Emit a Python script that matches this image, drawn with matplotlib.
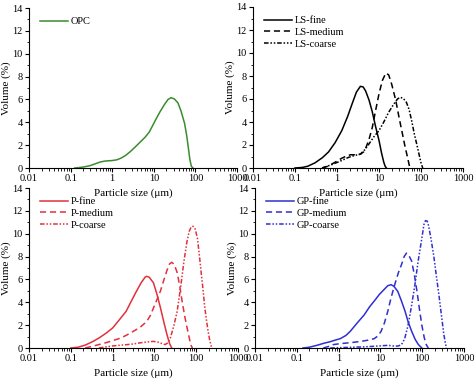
import matplotlib
matplotlib.use("Agg")
import matplotlib.pyplot as plt
from matplotlib.ticker import LogLocator, NullFormatter, MultipleLocator, FixedLocator, FixedFormatter

plt.rcParams['font.family'] = ['Liberation Serif', 'DejaVu Serif']
plt.rcParams['font.size'] = 7.5

# ---- data (particle size in um, volume in %) ----
opc_x = [0.126, 0.2, 0.29, 0.4, 0.51, 0.65, 0.8, 1.0, 1.3, 1.6, 2.1, 2.75, 3.6, 4.8, 6.2, 7.8,
         9.5, 11, 14, 18, 22, 26, 31, 38, 45, 55, 62, 68, 74, 80, 87]
opc_y = [0.0, 0.08, 0.2, 0.38, 0.52, 0.6, 0.63, 0.65, 0.72, 0.85, 1.1, 1.45, 1.85, 2.3, 2.7, 3.15,
         3.75, 4.2, 4.9, 5.55, 6.0, 6.15, 6.05, 5.7, 5.0, 3.9, 2.8, 1.7, 0.7, 0.15, 0.0]

ls_fine_x = [0.1, 0.15, 0.2, 0.3, 0.45, 0.63, 0.9, 1.3, 1.8, 2.3, 2.9, 3.6, 4.2, 4.8, 5.8, 6.9,
             8.3, 10, 11.5, 13, 14, 15]
ls_fine_y = [0.0, 0.05, 0.15, 0.45, 0.9, 1.4, 2.2, 3.25, 4.5, 5.6, 6.6, 7.1, 7.05, 6.7, 5.9, 4.9,
             3.6, 2.4, 1.3, 0.5, 0.15, 0.0]
ls_med_x = [0.44, 0.6, 0.76, 1.0, 1.3, 1.7, 2.1, 2.8, 3.6, 4.3, 4.8, 5.8, 6.9, 8.3, 10, 12, 14.5,
            17, 20, 25, 30, 36, 42, 48, 52, 55]
ls_med_y = [0.0, 0.15, 0.35, 0.6, 0.85, 1.05, 1.15, 1.15, 1.2, 1.4, 1.7, 2.5, 3.5, 5.0, 6.45, 7.6, 8.25,
            8.1, 7.3, 5.9, 4.4, 3.0, 1.8, 0.9, 0.3, 0.0]
ls_coa_x = [0.44, 0.76, 1.2, 1.9, 2.7, 3.6, 4.6, 5.8, 7.5, 10, 13, 17, 22, 27.5, 32, 38, 45, 52,
            60, 69, 80, 91, 100, 110]
ls_coa_y = [0.0, 0.3, 0.6, 0.93, 1.1, 1.2, 1.6, 2.1, 2.7, 3.25, 4.0, 4.85, 5.5, 6.0, 6.15, 6.05, 5.7, 5.1,
            4.1, 3.0, 2.0, 1.1, 0.45, 0.0]

p_fine_x = [0.1, 0.15, 0.22, 0.33, 0.47, 0.7, 1.0, 1.4, 2.1, 2.8, 3.7, 4.8, 6.0, 6.5, 7.5, 9.5,
            11.5, 14, 17, 20, 23, 26]
p_fine_y = [0.0, 0.07, 0.25, 0.55, 0.87, 1.3, 1.75, 2.4, 3.2, 4.1, 4.95, 5.7, 6.2, 6.27, 6.2, 5.7,
            4.7, 3.5, 2.2, 1.17, 0.4, 0.0]
p_med_x = [0.22, 0.33, 0.47, 0.7, 1.0, 1.5, 2.1, 3.1, 4.5, 6.5, 8, 9.5, 12, 14, 17, 20, 23, 26,
           30, 35, 40, 46, 53, 61, 70, 76, 81]
p_med_y = [0.0, 0.15, 0.3, 0.47, 0.64, 0.85, 1.1, 1.45, 1.8, 2.3, 2.85, 3.5, 4.4, 5.0, 6.0, 6.8, 7.35, 7.5,
           7.3, 6.6, 5.5, 4.1, 2.8, 1.7, 0.7, 0.2, 0.0]
p_coa_x = [0.47, 0.7, 1.0, 2, 3.1, 4.5, 6.5, 9.5, 12, 14, 16, 18, 21, 24, 29, 35, 42, 51, 60, 68,
           76, 84, 95, 107, 120, 135, 142, 160, 175, 190, 210, 235]
p_coa_y = [0.0, 0.1, 0.18, 0.28, 0.35, 0.45, 0.52, 0.58, 0.52, 0.44, 0.35, 0.3, 0.45, 0.87, 1.9, 3.2, 5.2, 7.6, 9.3, 10.2,
           10.6, 10.65, 10.4, 9.6, 8.0, 6.2, 5.5, 3.6, 2.5, 1.6, 0.7, 0.0]

gp_fine_x = [0.14, 0.2, 0.3, 0.45, 0.63, 0.85, 1.1, 1.5, 1.9, 2.8, 4.1, 5.5, 7.1, 9.5, 12.5, 15,
             18, 21, 26, 32, 39, 46, 56, 68, 81, 98]
gp_fine_y = [0.0, 0.07, 0.23, 0.42, 0.55, 0.7, 0.82, 1.1, 1.46, 2.2, 2.9, 3.6, 4.1, 4.7, 5.15, 5.45,
             5.54, 5.4, 4.96, 4.1, 3.2, 2.3, 1.46, 0.75, 0.3, 0.0]
gp_med_x = [0.43, 0.6, 0.75, 1.1, 1.6, 2.3, 3.4, 5, 7.1, 8.7, 10.4, 12.5, 15, 18, 22, 27, 32, 37,
            42, 48, 56, 65, 75, 86, 98, 112, 125, 140]
gp_med_y = [0.0, 0.15, 0.3, 0.38, 0.44, 0.5, 0.58, 0.68, 0.82, 1.05, 1.46, 2.2, 3.2, 4.4, 5.54, 6.6, 7.3, 8.0,
            8.3, 8.1, 7.6, 6.4, 4.96, 3.4, 2.0, 0.9, 0.3, 0.0]
gp_coa_x = [0.63, 1.0, 1.9, 4, 7.1, 11, 15, 19, 22, 27, 32, 38, 46, 55, 67, 80, 98, 110, 120, 132,
            142, 160, 190, 220, 250, 290, 330, 360, 380]
gp_coa_y = [0.0, 0.03, 0.06, 0.1, 0.15, 0.2, 0.23, 0.2, 0.15, 0.18, 0.3, 0.8, 2.0, 3.6, 5.54, 7.6, 9.6, 10.8, 11.15, 11.1,
            10.7, 9.7, 8.0, 6.2, 4.7, 2.8, 1.17, 0.4, 0.0]

x_ticks = [0.01, 0.1, 1, 10, 100, 1000]
x_tick_labels = ['0.01', '0.1', '1', '10', '100', '1000']

green = '#3a8c2e'
red = '#e2303c'
blue = '#2f2fd2'
black = '#000000'

dashdotdot = (0, (3, 1.2, 1, 1.2, 1, 1.2))
styles = ['-', (0, (4, 2.5)), dashdotdot]

fig = plt.figure(figsize=(4.74, 3.79), dpi=100)
W, H = 474, 379
def ax_at(l, r, t, b):
    return fig.add_axes([l / W, 1 - b / H, (r - l) / W, (b - t) / H])

axes = [ax_at(29, 237, 8, 168), ax_at(253, 463, 7, 168),
        ax_at(29, 238, 188, 348), ax_at(255, 464, 188, 348)]

panels = [
    [(opc_x, opc_y, 'OPC', green, '-')],
    [(ls_fine_x, ls_fine_y, 'LS-fine', black, styles[0]),
     (ls_med_x, ls_med_y, 'LS-medium', black, styles[1]),
     (ls_coa_x, ls_coa_y, 'LS-coarse', black, styles[2])],
    [(p_fine_x, p_fine_y, 'P-fine', red, styles[0]),
     (p_med_x, p_med_y, 'P-medium', red, styles[1]),
     (p_coa_x, p_coa_y, 'P-coarse', red, styles[2])],
    [(gp_fine_x, gp_fine_y, 'GP-fine', blue, styles[0]),
     (gp_med_x, gp_med_y, 'GP-medium', blue, styles[1]),
     (gp_coa_x, gp_coa_y, 'GP-coarse', blue, styles[2])],
]

for ax, series in zip(axes, panels):
    ax.patch.set_visible(False)
    for xs, ys, lab, col, ls in series:
        ax.plot(xs, ys, color=col, linestyle=ls, linewidth=1.1, label=lab)
    ax.set_xscale('log')
    ax.set_xlim(0.01, 1000)
    ax.set_ylim(0, 14)
    ax.xaxis.set_major_locator(FixedLocator(x_ticks))
    ax.xaxis.set_major_formatter(FixedFormatter(x_tick_labels))
    ax.xaxis.set_minor_locator(LogLocator(base=10, subs=range(2, 10), numticks=20))
    ax.xaxis.set_minor_formatter(NullFormatter())
    ax.yaxis.set_major_locator(MultipleLocator(2))
    ax.yaxis.set_minor_locator(MultipleLocator(1))
    ax.spines['top'].set_visible(False)
    ax.spines['right'].set_visible(False)
    for s in ('left', 'bottom'):
        ax.spines[s].set_linewidth(0.8)
    ax.tick_params(which='major', direction='out', length=3, width=0.8, labelsize=7.5, pad=1.5)
    ax.tick_params(which='minor', direction='out', length=1.8, width=0.6)
    ax.set_xlabel('Particle size (\u03bcm)', fontsize=8, labelpad=4)
    ax.set_ylabel('Volume (%)', fontsize=8, labelpad=1)
    ax.legend(loc='upper left', frameon=False, fontsize=7.5, handlelength=2.6,
              handletextpad=0.3, labelspacing=0.25, borderaxespad=0.3,
              bbox_to_anchor=(0.02, 0.99))

fig.savefig('out.png', dpi=100)
